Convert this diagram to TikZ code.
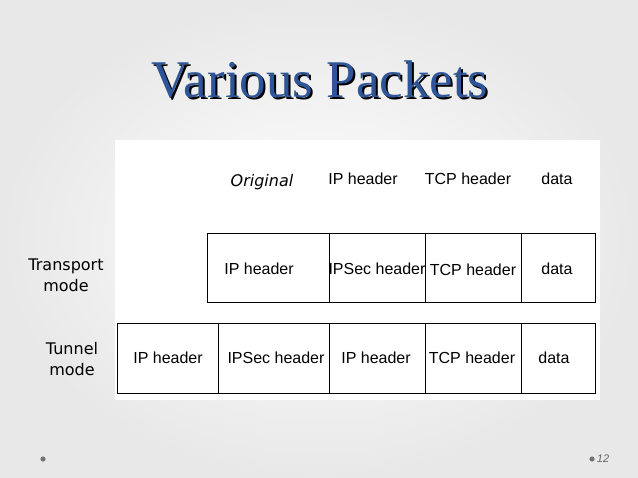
\documentclass[tikz,border=0pt]{standalone}
\usepackage{fontspec}
\setmainfont{Liberation Sans}
\newfontfamily\titlefont{Liberation Serif}
\newfontfamily\comicfont{DejaVu Sans}
\definecolor{tblue}{HTML}{2E5597}
\begin{document}
\begin{tikzpicture}[x=1pt,y=-1pt,
  lab/.style={font=\fontsize{16}{18}\selectfont},
  side/.style={font=\comicfont\fontsize{16}{21}\selectfont,align=center},
  cell/.style={draw=black,line width=0.6pt}]
\useasboundingbox (0,0) rectangle (638,478);
\shade[inner color=white,outer color=black!9] (0,0) rectangle (638,478);
\fill[white] (115,140) rectangle (600,400);
% title
\node[font=\titlefont\fontsize{53}{58}\selectfont,text=black] (tsh) at (322,82) {Various Packets};
\node[font=\titlefont\fontsize{53}{58}\selectfont,text=tblue] (title) at (320,80) {Various Packets};
% original
\node[side,font=\comicfont\itshape\fontsize{16}{19}\selectfont] (orig) at (262,182) {Original};
\node[lab] (o1) at (363,179) {IP header};
\node[lab] (o2) at (468,179) {TCP header};
\node[lab] (o3) at (557,179) {data};
% transport
\node[side] (tr) at (66,275) {Transport\\mode};
\draw[cell] (207,233) rectangle (595,302);
\foreach \x in {329,425,521} \draw[cell] (\x,233) -- (\x,302);
\node[lab] (t1) at (259,269) {IP header};
\node[lab] (t2) at (377,269) {IPSec header};
\node[lab] (t3) at (473,270) {TCP header};
\node[lab] (t4) at (557,269) {data};
% tunnel
\node[side] (tu) at (72,359) {Tunnel\\mode};
\draw[cell] (117,323) rectangle (595,393);
\foreach \x in {218,329,425,521} \draw[cell] (\x,323) -- (\x,393);
\node[lab] (u1) at (168,358) {IP header};
\node[lab] (u2) at (276,358) {IPSec header};
\node[lab] (u3) at (376,358) {IP header};
\node[lab] (u4) at (472,358) {TCP header};
\node[lab] (u5) at (554,358) {data};
% footer
\fill[black!55] (43,459) circle (2.6);
\fill[black!55] (592,459) circle (2.6);
\node[font=\itshape\fontsize{11}{12}\selectfont,text=black!60] (pg) at (603,459) {12};
\end{tikzpicture}
\end{document}
